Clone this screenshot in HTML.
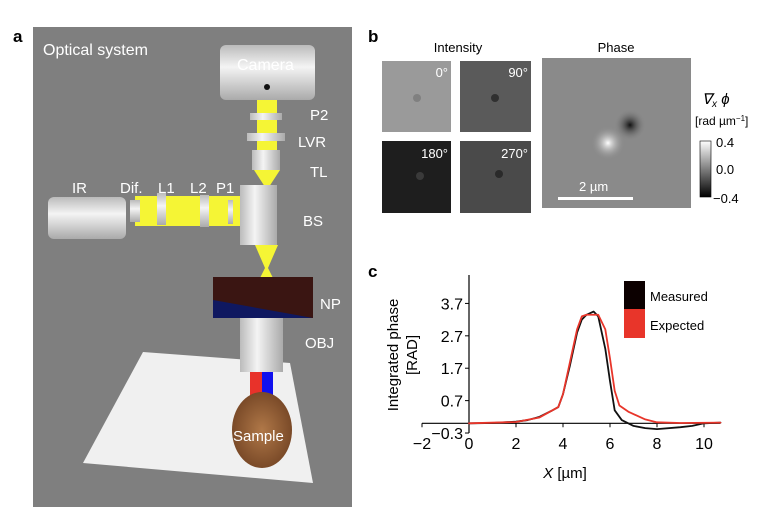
<!DOCTYPE html>
<html><head><meta charset="utf-8"><style>
body{margin:0;background:#fff;width:768px;height:516px;overflow:hidden;font-family:"Liberation Sans",sans-serif}
svg{position:absolute;left:0;top:0}
</style></head><body>
<svg width="768" height="516" viewBox="0 0 768 516" font-family="Liberation Sans, sans-serif">
<defs>
<linearGradient id="cyl" x1="0" x2="1"><stop offset="0" stop-color="#bbb"/><stop offset="0.4" stop-color="#f4f4f4"/><stop offset="1" stop-color="#aaa"/></linearGradient>
<linearGradient id="cylv" x1="0" x2="0" y1="0" y2="1"><stop offset="0" stop-color="#bbb"/><stop offset="0.4" stop-color="#f4f4f4"/><stop offset="1" stop-color="#aaa"/></linearGradient>
<radialGradient id="wal"><stop offset="0" stop-color="#b07848"/><stop offset="1" stop-color="#7a4a28"/></radialGradient>
<linearGradient id="cb" x1="0" x2="0" y1="0" y2="1"><stop offset="0" stop-color="#fff"/><stop offset="1" stop-color="#000"/></linearGradient>
<radialGradient id="wb"><stop offset="0" stop-color="#fff"/><stop offset="1" stop-color="#8a8a8a" stop-opacity="0"/></radialGradient>
<radialGradient id="bb"><stop offset="0" stop-color="#111"/><stop offset="1" stop-color="#8a8a8a" stop-opacity="0"/></radialGradient>
</defs>
<g>
<text x="13" y="42" font-size="17" font-weight="bold">a</text>
<rect x="33" y="27" width="319" height="480" fill="#7f7f7f"/>
<text x="43" y="55" font-size="16" fill="#fff">Optical system</text>
<polygon points="143,352 290,363 313,483 83,463" fill="#f0f0f0"/>
<rect x="257" y="100" width="20" height="65" fill="#f5f535"/>
<polygon points="254,170 280,170 267,190" fill="#f5f535"/>
<polygon points="255,245 278,245 268,268 279,290 254,290 265,268" fill="#f5f535"/>
<rect x="220" y="45" width="95" height="55" rx="6" fill="url(#cylv)"/>
<circle cx="267" cy="87" r="3" fill="#111"/>
<text x="237" y="70" font-size="16" fill="#fff">Camera</text>
<rect x="250" y="113" width="32" height="7" fill="url(#cyl)"/>
<rect x="247" y="133" width="38" height="8" fill="url(#cyl)"/>
<rect x="252" y="150" width="28" height="20" fill="url(#cyl)"/>
<rect x="135" y="196" width="105" height="30" fill="#f5f535"/>
<rect x="48" y="197" width="78" height="42" rx="6" fill="url(#cylv)"/>
<rect x="130" y="200" width="10" height="22" fill="url(#cylv)"/>
<rect x="157" y="193" width="9" height="32" fill="url(#cylv)"/>
<rect x="200" y="195" width="9" height="32" fill="url(#cylv)"/>
<rect x="228" y="200" width="5" height="24" fill="url(#cylv)"/>
<rect x="240" y="185" width="37" height="60" fill="url(#cyl)"/>
<rect x="213" y="277" width="100" height="41" fill="#3a1512"/>
<polygon points="213,300 313,318 213,318" fill="#0f1860"/>
<rect x="240" y="318" width="43" height="54" fill="url(#cyl)"/>
<rect x="250" y="372" width="12" height="33" fill="#e8322a"/>
<rect x="262" y="372" width="11" height="33" fill="#1010ee"/>
<ellipse cx="262" cy="430" rx="30" ry="38" fill="url(#wal)"/>
<g font-size="15" fill="#fff">
<text x="310" y="120">P2</text>
<text x="298" y="147">LVR</text>
<text x="310" y="177">TL</text>
<text x="72" y="193">IR</text>
<text x="120" y="193">Dif.</text>
<text x="158" y="193">L1</text>
<text x="190" y="193">L2</text>
<text x="216" y="193">P1</text>
<text x="303" y="226">BS</text>
<text x="320" y="309">NP</text>
<text x="305" y="348">OBJ</text>
<text x="233" y="441">Sample</text>
</g>
</g>
<g>
<text x="368" y="42" font-size="17" font-weight="bold">b</text>
<text x="458" y="52" font-size="13" text-anchor="middle">Intensity</text>
<text x="616" y="52" font-size="13" text-anchor="middle">Phase</text>
<rect x="382" y="61" width="69" height="71" fill="#9a9a9a"/>
<circle cx="417" cy="98" r="4" fill="#808080"/>
<rect x="460" y="61" width="71" height="71" fill="#5a5a5a"/>
<circle cx="495" cy="98" r="4" fill="#303030"/>
<rect x="382" y="141" width="69" height="72" fill="#1e1e1e"/>
<circle cx="420" cy="176" r="4" fill="#3a3a3a"/>
<rect x="460" y="141" width="71" height="72" fill="#4a4a4a"/>
<circle cx="499" cy="174" r="4" fill="#2a2a2a"/>
<g font-size="13" fill="#fff" text-anchor="end">
<text x="448" y="77">0°</text><text x="528" y="77">90°</text>
<text x="448" y="158">180°</text><text x="528" y="158">270°</text>
</g>
<rect x="542" y="58" width="149" height="150" fill="#8a8a8a"/>
<circle cx="608" cy="143" r="17" fill="url(#wb)"/>
<circle cx="630" cy="125" r="16" fill="url(#bb)"/>
<rect x="558" y="197" width="75" height="3" fill="#fff"/>
<text x="579" y="191" font-size="13" fill="#fff">2 µm</text>
<text x="702" y="104" font-size="15" font-style="italic">∇<tspan font-size="10" dy="3">x</tspan><tspan dy="-3"> ϕ</tspan></text>
<text x="695" y="125" font-size="12">[rad µm<tspan font-size="8" dy="-4">−1</tspan><tspan dy="4">]</tspan></text>
<rect x="700" y="141" width="11" height="56" fill="url(#cb)" stroke="#000" stroke-width="0.6"/>
<g font-size="13"><text x="716" y="147">0.4</text><text x="716" y="174">0.0</text><text x="713" y="203">−0.4</text></g>
</g>
<text x="368" y="277" font-size="17" font-weight="bold">c</text>
<g id="chart"></g>
</svg>
<script>
const xTicks=[-2,0,2,4,6,8,10];
const yTicks=[-0.3,0.7,1.7,2.7,3.7];
const measuredX=[0,1,2,2.5,3,3.5,3.8,4,4.3,4.6,4.8,5,5.3,5.5,5.8,6,6.2,6.5,7,7.5,8,9,9.5,10,10.7];
const measuredY=[0,0.01,0.05,0.1,0.2,0.38,0.5,0.9,1.8,2.8,3.2,3.35,3.45,3.3,2.3,1.3,0.4,0.1,-0.08,-0.15,-0.18,-0.12,-0.08,0,0.02];
const expectedX=[0,2,3,3.8,4,4.3,4.6,4.8,5,5.5,5.8,6,6.2,6.4,6.8,7.5,8,9,10.7];
const expectedY=[0,0.04,0.18,0.5,0.9,1.9,2.9,3.3,3.35,3.35,2.9,2.0,1.0,0.55,0.35,0.12,0.03,0.01,0.02];
const NS='http://www.w3.org/2000/svg';
const g=document.getElementById('chart');
const X=v=>469+v*23.5, Y=v=>423.3-v*32.4;
function mk(t,a){const e=document.createElementNS(NS,t);for(const k in a)e.setAttribute(k,a[k]);g.appendChild(e);return e;}
let e=mk('line',{x1:X(-2),x2:X(10.7),y1:Y(0),y2:Y(0),stroke:'#000','stroke-width':1.2});


e=mk('line',{x1:X(0),x2:X(0),y1:275,y2:Y(-0.3),stroke:'#000','stroke-width':1.2});


xTicks.forEach(t=>{
 mk('line',{x1:X(t),x2:X(t),y1:Y(0),y2:Y(0)+4,stroke:'#000'});
 e=mk('text',{x:X(t),y:Y(-0.3)+16,'font-size':16,'text-anchor':'middle'});e.textContent=t<0?'−'+(-t):t;
 
 
});
yTicks.forEach(t=>{
 mk('line',{x1:X(0)-4,x2:X(0),y1:Y(t),y2:Y(t),stroke:'#000'});
 e=mk('text',{x:X(0)-6,y:Y(t)+6,'font-size':16,'text-anchor':'end'});e.textContent=t<0?'−'+(-t):t;
 
 
});
function line(xs,ys,c,n){const d=xs.map((x,i)=>(i?'L':'M')+X(x)+','+Y(ys[i])).join('');
 const p=mk('path',{d:d,fill:'none',stroke:c,'stroke-width':1.8,'stroke-linejoin':'round','stroke-linecap':'round'});
 
 }
line(measuredX,measuredY,'#111','measured-line');
line(expectedX,expectedY,'#e8352a','expected-line');
e=mk('text',{x:565,y:478,'font-size':15,'text-anchor':'middle'});e.innerHTML='<tspan font-style="italic">X</tspan> [µm]';


e=mk('text',{x:0,y:0,'font-size':15,'text-anchor':'middle',transform:'translate(398,355) rotate(-90)'});e.textContent='Integrated phase';


e=mk('text',{x:0,y:0,'font-size':15,'text-anchor':'middle',transform:'translate(417,355) rotate(-90)'});e.textContent='[RAD]';


e=mk('rect',{x:624,y:281,width:21,height:28,fill:'#0c0000'});


e=mk('rect',{x:624,y:309,width:21,height:29,fill:'#e8352a'});


e=mk('text',{x:650,y:301,'font-size':13});e.textContent='Measured';


e=mk('text',{x:650,y:330,'font-size':13});e.textContent='Expected';


</script>
</body></html>
